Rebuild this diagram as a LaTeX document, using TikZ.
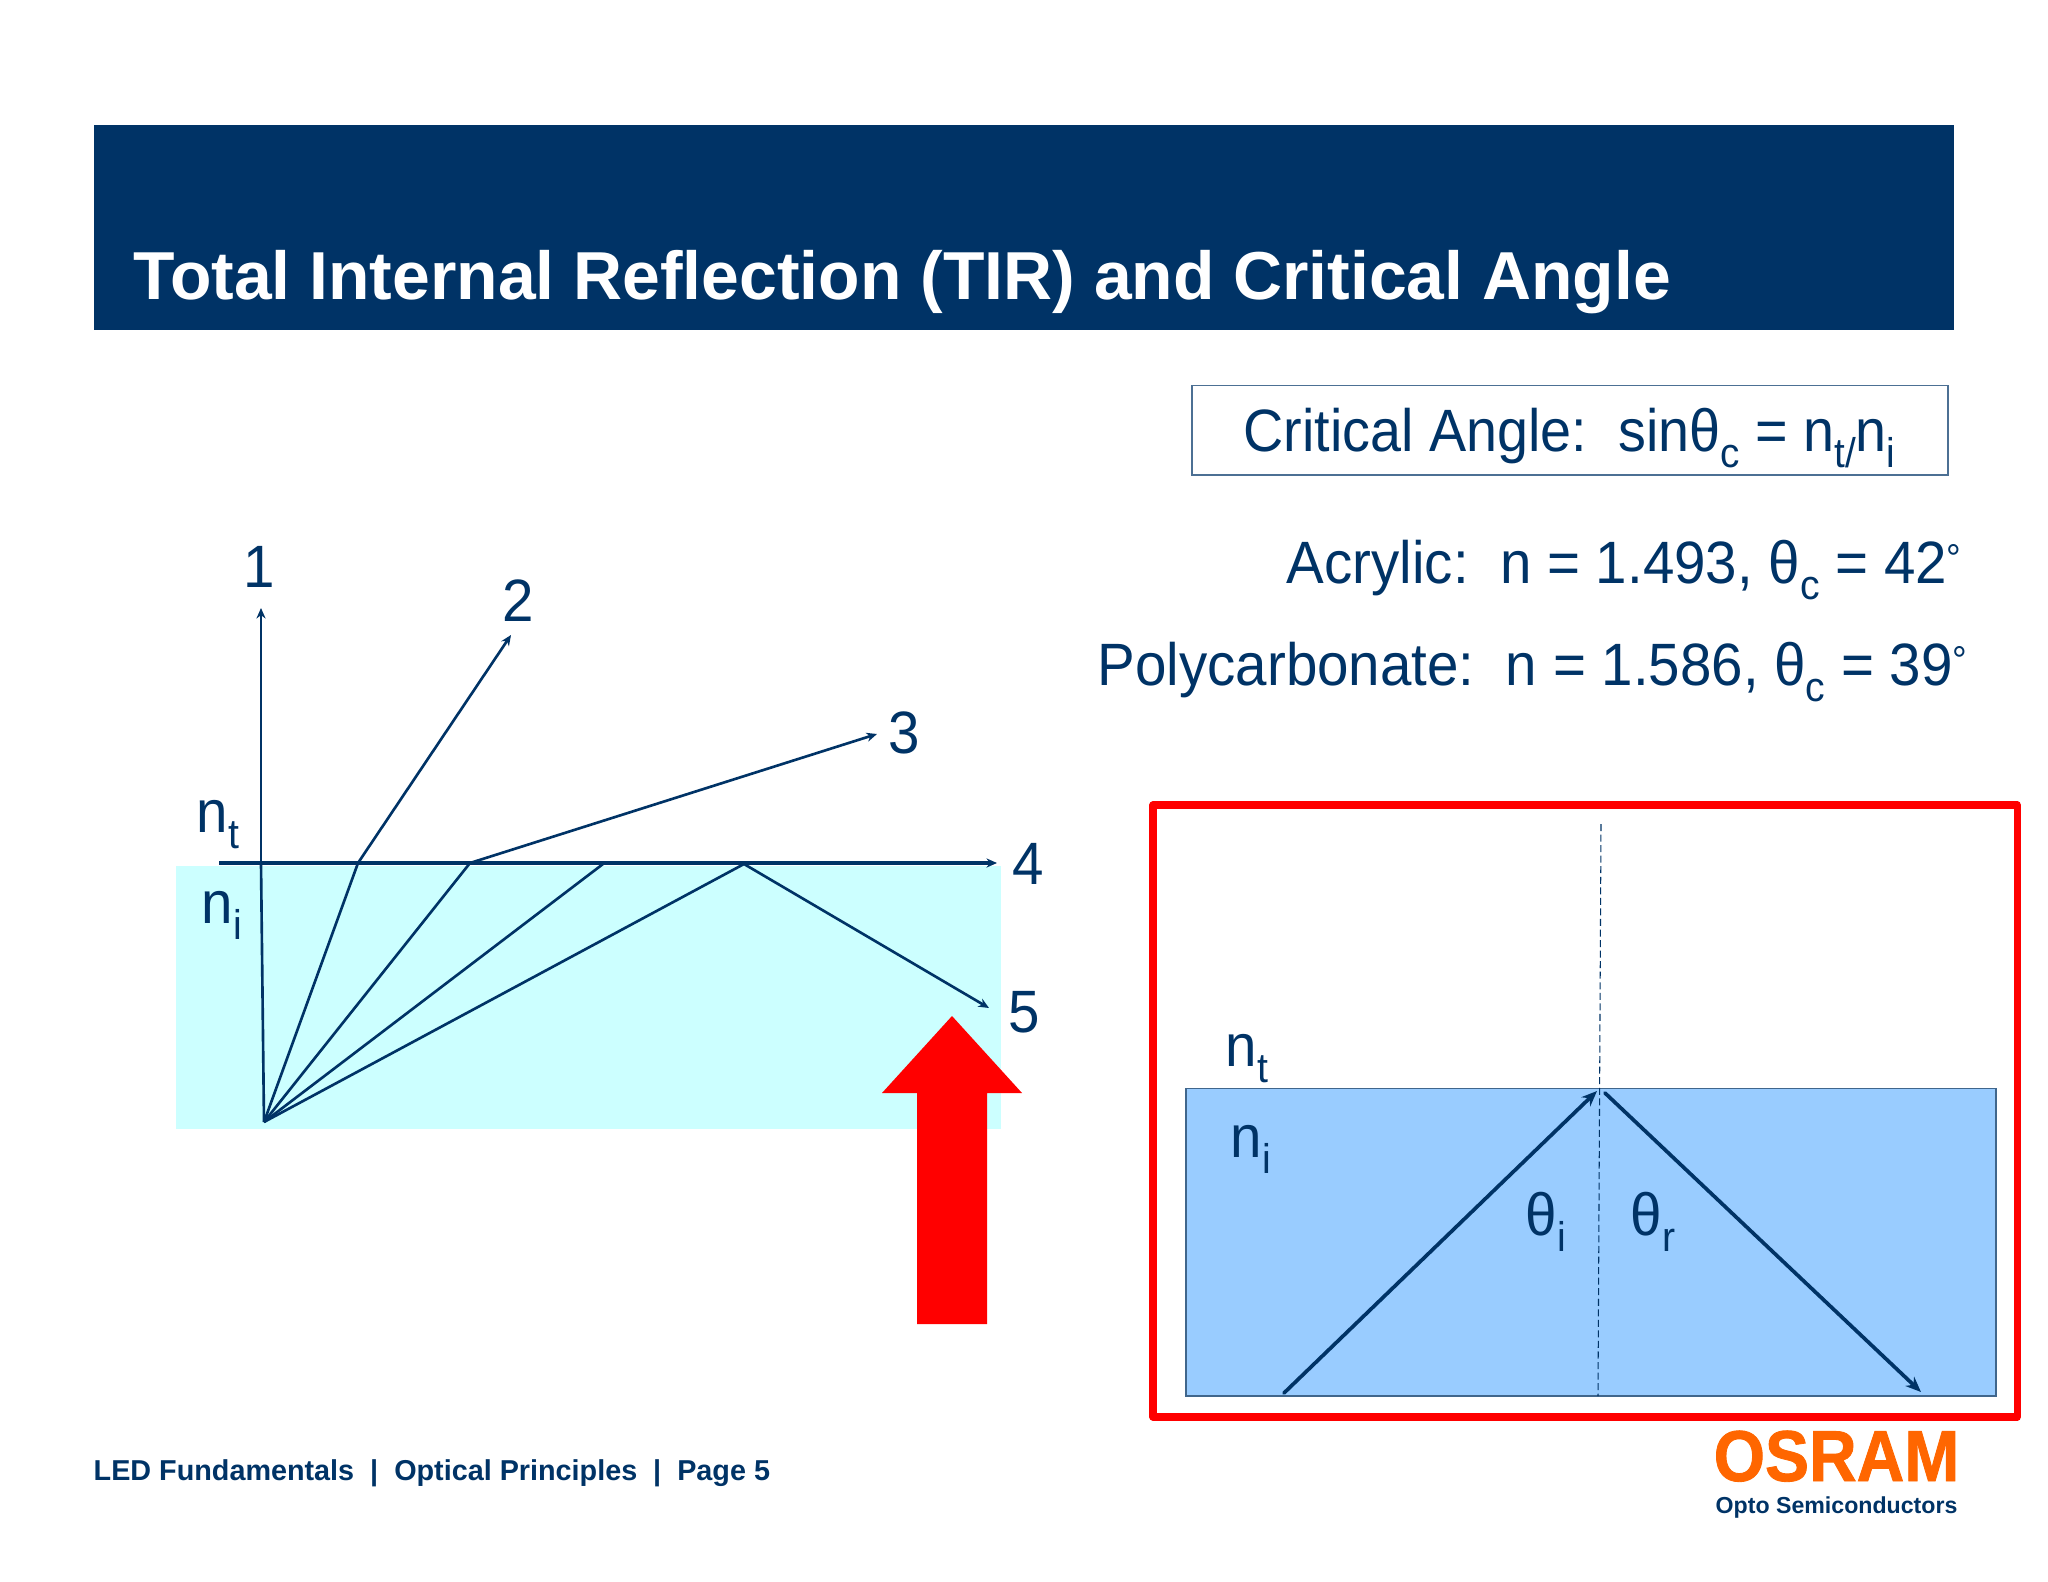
\documentclass[tikz,border=0pt]{standalone}
\usepackage{fontspec}
\setmainfont{Liberation Sans}
\newfontfamily\narrowfont[FakeStretch=0.945]{Liberation Sans}
\newfontfamily\critfont[FakeStretch=0.932]{Liberation Sans}
\newfontfamily\logofont[FakeStretch=0.915,FakeBold=1.2]{Liberation Sans Bold}
\usetikzlibrary{arrows.meta}
\definecolor{navy}{HTML}{003366}
\definecolor{osorange}{HTML}{FF6600}
\definecolor{cyanfill}{HTML}{CCFFFF}
\definecolor{bluefill}{HTML}{99CCFF}
\newcommand{\lowtxt}[1]{\raisebox{-0.27em}{\fontsize{11.8}{14}\selectfont #1}}
\newcommand{\degmark}{\raisebox{0.2em}{\fontsize{11}{13}\selectfont °}}
\tikzset{
  lbl/.style={anchor=base west,inner sep=0pt,text=navy,font=\narrowfont\fontsize{17}{20}\selectfont},
  num/.style={anchor=center,inner sep=0pt,text=navy,font=\narrowfont\fontsize{17}{20}\selectfont},
  ray/.style={draw=navy,line width=0.75pt},
  rayarrow/.style={ray,-{Stealth[length=3pt,width=2.6pt]}},
  surface/.style={draw=navy,line width=0.95pt,-{Stealth[length=3pt,width=2.6pt]}},
  thick ray/.style={draw=navy,line width=1.05pt,line cap=round,-{Stealth[length=4.4pt,width=3.6pt]}},
}
\begin{document}
\begin{tikzpicture}[x=0.01cm,y=-0.01cm]
\useasboundingbox (0,0) rectangle (2048,1582);
% banner
\fill[navy] (94,125) rectangle (1954,330);
\node[anchor=base west,inner sep=0pt,text=white,font=\bfseries\fontsize{19.3}{24}\selectfont] (title) at (133,299) {Total Internal Reflection (TIR) and Critical Angle};
% formula box
\draw[navy!70,line width=0.35pt] (1192,385.5) rectangle (1948,475);
\node[lbl,font=\critfont\fontsize{17}{20}\selectfont] (crit) at (1243,451) {Critical Angle:\ \ sinθ\lowtxt{c} = n\lowtxt{t/}n\lowtxt{i}};
\node[lbl] (acr) at (1286,583) {Acrylic:\ \ n = 1.493, θ\lowtxt{c} = 42\degmark};
\node[lbl] (poly) at (1097,685) {Polycarbonate:\ \ n = 1.586, θ\lowtxt{c} = 39\degmark};
% left diagram
\fill[cyanfill] (176,866) rectangle (1001,1129);
\coordinate (src) at (264,1122);
\coordinate (s0) at (219,863);
\coordinate (s4) at (997,863);
\coordinate (k1) at (261,863);
\coordinate (t1) at (261,608);
\coordinate (k2) at (358,863);
\coordinate (t2) at (511,635);
\coordinate (k3) at (470,863);
\coordinate (t3) at (877,734);
\coordinate (k4) at (603,864);
\coordinate (k5) at (744,864);
\coordinate (t5) at (989,1008);
\draw[ray] (src) -- (k1);
\draw[rayarrow] (k1) -- (t1);
\draw[surface] (s0) -- (s4);
\draw[rayarrow] (src) -- (k2) -- (t2);
\draw[rayarrow] (src) -- (k3) -- (t3);
\draw[ray] (src) -- (k4);
\draw[rayarrow] (src) -- (k5) -- (t5);
\node[num] (n1) at (259,567) {1};
\node[num] (n2) at (518,601) {2};
\node[num] (n3) at (904,733) {3};
\node[num] (n4) at (1028,864) {4};
\node[num] (n5) at (1024,1012) {5};
\node[lbl] (ntl) at (196,832) {n\lowtxt{t}};
\node[lbl] (nil) at (201,923) {n\lowtxt{i}};
% red arrow
\fill[red] (952,1016) -- (1022,1093) -- (987,1093) -- (987,1324) -- (917,1324) -- (917,1093) -- (882,1093) -- cycle;
% right diagram
\draw[red,line width=2pt,line join=round] (1153,805) rectangle (2017,1417);
\draw[navy!75,fill=bluefill,line width=0.4pt] (1186,1088.5) rectangle (1996,1396);
\coordinate (dtop) at (1601,824);
\coordinate (dbot) at (1598,1396);
\draw[navy,line width=0.3pt,dash pattern=on 2pt off 1pt] (dtop) -- (dbot);
\coordinate (a0) at (1284,1393);
\coordinate (a1) at (1597,1091);
\coordinate (b0) at (1605,1093);
\coordinate (b1) at (1921,1392);
\draw[thick ray] (a0) -- (a1);
\draw[thick ray] (b0) -- (b1);
\node[lbl] (ntr) at (1225,1066) {n\lowtxt{t}};
\node[lbl] (nir) at (1230,1157) {n\lowtxt{i}};
\node[lbl] (thi) at (1525,1235) {θ\lowtxt{i}};
\node[lbl] (thr) at (1630,1235) {θ\lowtxt{r}};
% footer
\node[anchor=base west,inner sep=0pt,text=navy,font=\bfseries\fontsize{8.18}{10}\selectfont] (foot) at (93,1480) {LED Fundamentals\ \ |\ \ Optical Principles\ \ |\ \ Page 5};
\node[anchor=base west,inner sep=0pt,text=osorange,font=\logofont\fontsize{20.5}{24}\selectfont] (logo) at (1713,1481) {OSRAM};
\node[anchor=base west,inner sep=0pt,text=navy,font=\bfseries\fontsize{6.58}{8}\selectfont] (opto) at (1715,1513) {Opto Semiconductors};
\end{tikzpicture}
\end{document}
